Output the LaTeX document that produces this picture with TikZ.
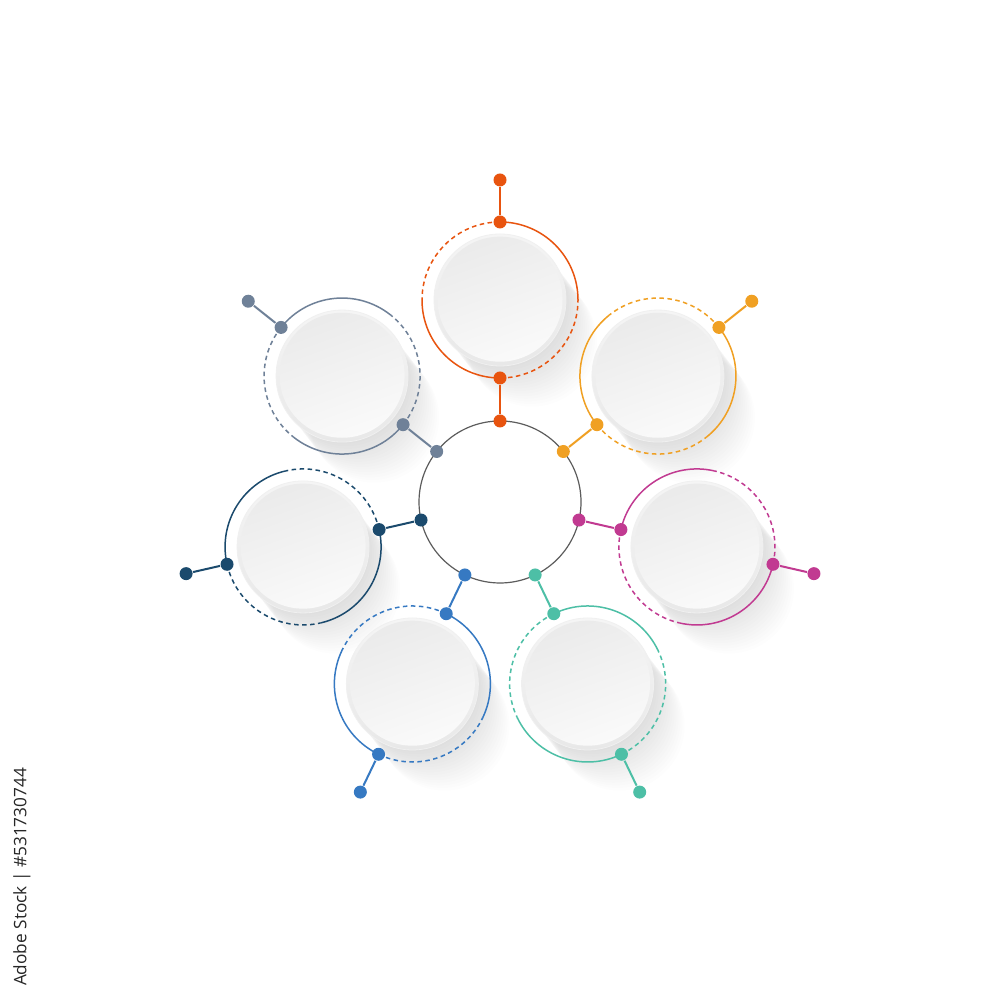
\documentclass[tikz,border=0pt]{standalone}
\usepackage{fontspec}
\newfontfamily\stockfont{Open Sans}
\usetikzlibrary{calc}
\definecolor{cOrange}{HTML}{E8540F}
\definecolor{cAmber}{HTML}{F0A023}
\definecolor{cMagenta}{HTML}{C13A91}
\definecolor{cTeal}{HTML}{4DBFA6}
\definecolor{cBlue}{HTML}{3679C2}
\definecolor{cNavy}{HTML}{1B4A6D}
\definecolor{cSlate}{HTML}{6F8198}
\definecolor{cHub}{HTML}{5C5C5C}

\begin{document}
\begin{tikzpicture}[
      dot/.style={circle,fill,inner sep=0pt,minimum size=0.13cm},
      link/.style={line width=0.02cm},
      ring/.style={line width=0.015cm},
      ringdash/.style={ring,dash pattern=on 0.045cm off 0.035cm},
      hub/.style={circle,draw=cHub,line width=0.012cm,minimum size=1.62cm,inner sep=0pt},
      rim/.style={circle,inner sep=0pt,minimum size=1.32cm,top color=white!96!black,bottom color=black!9,draw=black!6,line width=0.008cm},
      disc/.style={circle,inner sep=0pt,minimum size=1.25cm,top color=black!8,bottom color=black!2,shading angle=20}
      ]
      \fill[white] (0,0) rectangle (10,10);
      \useasboundingbox (0,0) rectangle (10,10);

      \coordinate (hub_c) at (5,4.98);

      % soft shadows first
      \foreach \i/\ang in {1/90, 2/38.57, 3/-12.86, 4/-64.29, 5/-115.71, 6/-167.14, 7/141.43}{
        \coordinate (s_\i) at ($(hub_c)+(\ang:2.02)$);
        \foreach \k in {1,...,16}
          \fill[black,opacity=0.007] ($(s_\i)+(0.02*\k,-0.026*\k)$) circle (0.65);
      }

      \node[hub] (hub) at (hub_c) {};

      \foreach \i/\ang/\col in {1/90/cOrange, 2/38.57/cAmber, 3/-12.86/cMagenta, 4/-64.29/cTeal,
                                5/-115.71/cBlue, 6/-167.14/cNavy, 7/141.43/cSlate}{
        \coordinate (s_\i) at ($(hub_c)+(\ang:2.02)$);
        % ring, half solid half dashed
        \draw[ring,\col] ($(s_\i)+(\ang+90:0.78)$) arc[start angle=\ang+90,end angle=\ang+180,radius=0.78];
        \draw[ring,\col] ($(s_\i)+(\ang+270:0.78)$) arc[start angle=\ang+270,end angle=\ang+360,radius=0.78];
        \draw[ringdash,\col] ($(s_\i)+(\ang:0.78)$) arc[start angle=\ang,end angle=\ang+90,radius=0.78];
        \draw[ringdash,\col] ($(s_\i)+(\ang+180:0.78)$) arc[start angle=\ang+180,end angle=\ang+270,radius=0.78];
        % paper disc
        \node[rim]  (rim_\i)  at (s_\i) {};
        \node[disc] (disc_\i) at ($(s_\i)+(0,0.008)$) {};
        % dots and links
        \node[dot,\col] (hd_\i)  at ($(hub_c)+(\ang:0.81)$) {};
        \node[dot,\col] (in_\i)  at ($(s_\i)+(\ang+180:0.78)$) {};
        \node[dot,\col] (out_\i) at ($(s_\i)+(\ang:0.78)$) {};
        \node[dot,\col] (end_\i) at ($(hub_c)+(\ang:3.22)$) {};
        \draw[link,\col] (hd_\i) -- (in_\i);
        \draw[link,\col] (out_\i) -- (end_\i);
      }

      \node[rotate=90,text=black!85,font=\stockfont\fontsize{4.9}{6}\selectfont] (stock) at (0.22,1.23) {Adobe Stock | \#531730744};
    \end{tikzpicture}
\end{document}
